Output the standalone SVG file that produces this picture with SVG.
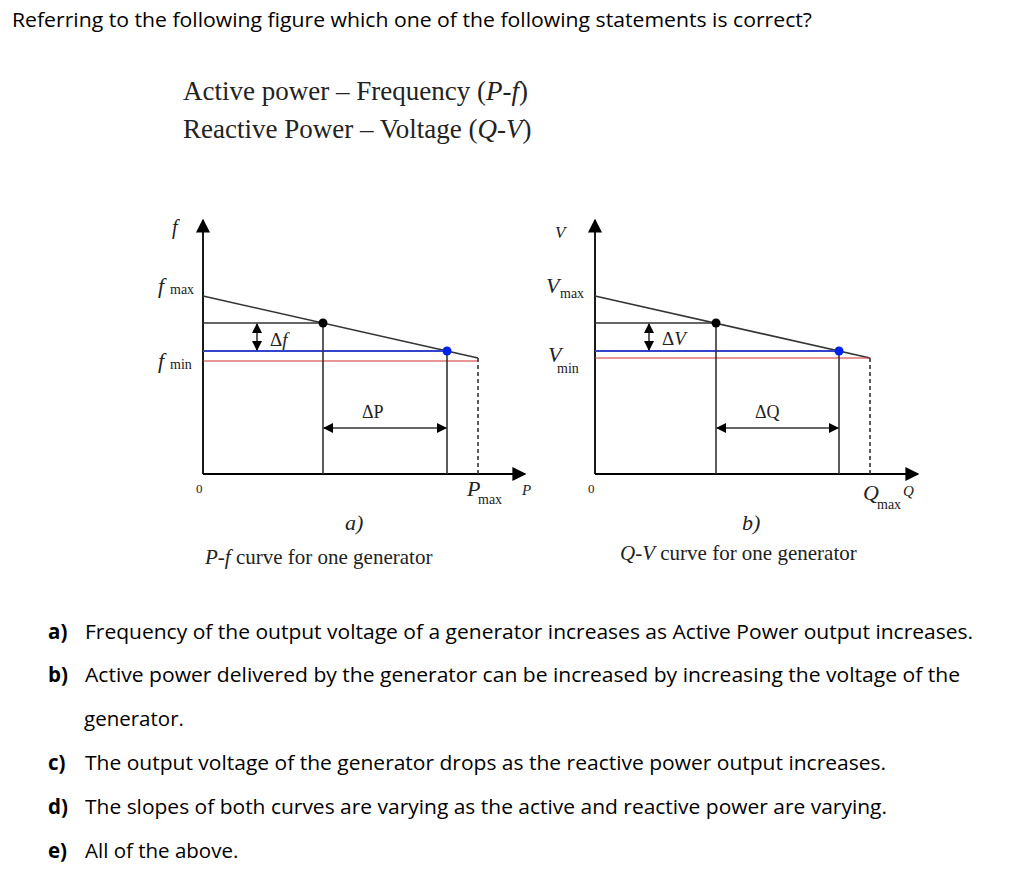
<svg xmlns="http://www.w3.org/2000/svg" width="1015" height="871" viewBox="0 0 1015 871">
<defs>
<marker id="ah" viewBox="0 0 10 10" refX="9" refY="5" markerWidth="10" markerHeight="10" markerUnits="userSpaceOnUse" orient="auto-start-reverse"><path d="M0,0 L10,5 L0,10 z" fill="#000"/></marker>
<marker id="ax" viewBox="0 0 10 10" refX="9" refY="5" markerWidth="14" markerHeight="14" markerUnits="userSpaceOnUse" orient="auto"><path d="M0,0 L10,5 L0,10 z" fill="#000"/></marker>
</defs>
<style>
.s{font-family:"Open Sans","Noto Sans",sans-serif;font-size:20.5px;fill:#000}
.t{font-family:"Liberation Serif",serif;fill:#222}
.i{font-style:italic}
.l{stroke:#333;stroke-width:1.6;fill:none}
.ax{stroke:#000;stroke-width:1.8;fill:none}
.b{font-weight:bold}
</style>
<rect width="1015" height="871" fill="#fff"/>
<text class="s" x="12" y="27" textLength="800" lengthAdjust="spacingAndGlyphs">Referring to the following figure which one of the following statements is correct?</text>
<text class="t" x="183" y="100" font-size="27">Active power – Frequency (<tspan class="i">P-f</tspan>)</text>
<text class="t" x="183" y="138" font-size="27">Reactive Power – Voltage (<tspan class="i">Q-V</tspan>)</text>

<g id="chartA">
<line class="ax" x1="203" y1="474" x2="203" y2="220" marker-end="url(#ax)"/>
<line class="ax" x1="203" y1="474" x2="525" y2="474" marker-end="url(#ax)"/>
<line class="l" x1="203" y1="296" x2="478" y2="358"/>
<line class="l" x1="203" y1="323" x2="323" y2="323"/>
<line stroke="#3344cc" stroke-width="1.8" x1="203" y1="351" x2="447" y2="351"/>
<line stroke="#d03030" stroke-width="1.2" x1="203" y1="361" x2="478" y2="361"/>
<line class="l" x1="323" y1="323" x2="323" y2="474"/>
<line class="l" x1="447" y1="351" x2="447" y2="474"/>
<line class="l" x1="478" y1="358" x2="478" y2="474" stroke-dasharray="4,3"/>
<circle cx="323" cy="323" r="4.5" fill="#000"/>
<circle cx="447" cy="351" r="4.5" fill="#0022ee"/>
<line class="l" x1="257" y1="324" x2="257" y2="350" marker-start="url(#ah)" marker-end="url(#ah)"/>
<line class="l" x1="324" y1="428" x2="446" y2="428" marker-start="url(#ah)" marker-end="url(#ah)"/>
<text class="t" x="270" y="346" font-size="19">Δ<tspan class="i">f</tspan></text>
<text class="t" x="362" y="418" font-size="18">ΔP</text>
<text class="t i" x="172" y="234" font-size="20">f</text>
<text class="t i" x="158" y="293" font-size="22">f</text>
<text class="t" x="170" y="294" font-size="14">max</text>
<text class="t i" x="158" y="368" font-size="22">f</text>
<text class="t" x="170" y="369" font-size="14">min</text>
<text class="t" x="196" y="493" font-size="13">0</text>
<text class="t i" x="467" y="496" font-size="22">P</text>
<text class="t" x="478" y="504" font-size="14">max</text>
<text class="t i" x="522" y="495" font-size="15">P</text>
<text class="t i" x="345" y="530" font-size="22">a)</text>
<text class="t" x="205" y="564" font-size="21"><tspan class="i">P-f</tspan> curve for one generator</text>
</g>

<g id="chartB">
<line class="ax" x1="595" y1="474" x2="595" y2="220" marker-end="url(#ax)"/>
<line class="ax" x1="595" y1="474" x2="918" y2="474" marker-end="url(#ax)"/>
<line class="l" x1="595" y1="296" x2="870" y2="358"/>
<line class="l" x1="595" y1="323" x2="716" y2="323"/>
<line stroke="#3344cc" stroke-width="1.8" x1="595" y1="351" x2="839" y2="351"/>
<line stroke="#d03030" stroke-width="1.2" x1="595" y1="358" x2="870" y2="358"/>
<line class="l" x1="716" y1="323" x2="716" y2="474"/>
<line class="l" x1="839" y1="351" x2="839" y2="474"/>
<line class="l" x1="870" y1="358" x2="870" y2="474" stroke-dasharray="4,3"/>
<circle cx="716" cy="323" r="4.5" fill="#000"/>
<circle cx="839" cy="351" r="4.5" fill="#0022ee"/>
<line class="l" x1="649" y1="324" x2="649" y2="350" marker-start="url(#ah)" marker-end="url(#ah)"/>
<line class="l" x1="717" y1="428" x2="838" y2="428" marker-start="url(#ah)" marker-end="url(#ah)"/>
<text class="t" x="662" y="345" font-size="19">Δ<tspan class="i">V</tspan></text>
<text class="t" x="755" y="418" font-size="18">ΔQ</text>
<text class="t i" x="555" y="238" font-size="17">V</text>
<text class="t i" x="546" y="293" font-size="22">V</text>
<text class="t" x="560" y="298" font-size="14">max</text>
<text class="t i" x="548" y="362" font-size="22">V</text>
<text class="t" x="557" y="373" font-size="14">min</text>
<text class="t" x="588" y="493" font-size="13">0</text>
<text class="t i" x="863" y="500" font-size="22">Q</text>
<text class="t" x="877" y="509" font-size="14">max</text>
<text class="t i" x="903" y="496" font-size="15">Q</text>
<text class="t i" x="742" y="530" font-size="22">b)</text>
<text class="t" x="620" y="560" font-size="21"><tspan class="i">Q-V</tspan> curve for one generator</text>
</g>

<g class="s">
<text class="s b" x="48" y="639">a)</text><text class="s" x="85" y="639" textLength="888" lengthAdjust="spacingAndGlyphs">Frequency of the output voltage of a generator increases as Active Power output increases.</text>
<text class="s b" x="48" y="682">b)</text><text class="s" x="85" y="682" textLength="875" lengthAdjust="spacingAndGlyphs">Active power delivered by the generator can be increased by increasing the voltage of the</text>
<text class="s" x="84" y="726">generator.</text>
<text class="s b" x="48" y="770">c)</text><text class="s" x="85" y="770" textLength="801" lengthAdjust="spacingAndGlyphs">The output voltage of the generator drops as the reactive power output increases.</text>
<text class="s b" x="48" y="814">d)</text><text class="s" x="85" y="814" textLength="802" lengthAdjust="spacingAndGlyphs">The slopes of both curves are varying as the active and reactive power are varying.</text>
<text class="s b" x="48" y="858">e)</text><text class="s" x="85" y="858">All of the above.</text>
</g>
</svg>
